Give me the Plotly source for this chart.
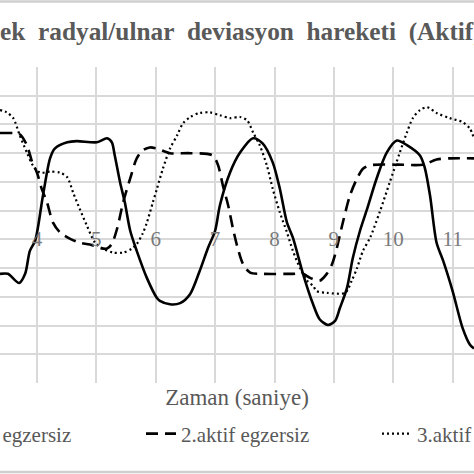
import plotly.graph_objects as go

# Series 1 (solid)
x1 = [3.377, 3.51, 3.70, 3.80, 3.88, 3.97, 4.10, 4.22, 4.30, 4.51, 4.67, 5.01, 5.18, 5.26, 5.31, 5.40, 5.48,
      5.57, 5.68, 5.85, 6.02, 6.07, 6.24, 6.41, 6.58, 6.74, 6.88, 7.00, 7.08, 7.25, 7.42, 7.64, 7.80, 7.97,
      8.09, 8.21, 8.31, 8.48, 8.65, 8.76, 8.90, 9.02, 9.10, 9.22, 9.32, 9.44, 9.56, 9.72, 9.89, 10.06, 10.23,
      10.45, 10.53, 10.62, 10.73, 10.84, 11.00, 11.17, 11.29, 11.36]
y1 = [-11.0, -11.0, -12.6, -11.0, -7.0, -5.2, 2.6, 9.1, 10.8, 11.9, 12.1, 11.9, 12.6, 11.9, 9.6, 4.9, 1.4,
      -3.5, -7.0, -11.7, -15.2, -15.7, -16.3, -16.1, -14.5, -10.5, -6.5, -3.5, 0.9, 6.6, 10.1, 12.6, 11.7, 8.4,
      3.8, -2.1, -4.7, -11.0, -16.3, -18.9, -19.9, -19.2, -17.0, -13.5, -8.2, -3.5, 0.3, 5.6, 10.1, 12.2, 11.4,
      9.6, 7.5, 2.6, -5.6, -8.7, -14.0, -20.5, -23.3, -24.0]

# Series 2 (dashed)
x2 = [3.377, 3.60, 3.71, 3.83, 3.92, 4.00, 4.08, 4.17, 4.27, 4.39, 4.56, 4.72, 4.89, 5.06, 5.18, 5.26, 5.35,
      5.45, 5.57, 5.68, 5.78, 5.90, 6.02, 6.24, 6.58, 6.96, 7.05, 7.13, 7.22, 7.30, 7.38, 7.47, 7.59, 7.80,
      8.31, 8.48, 8.60, 8.76, 8.88, 8.97, 9.05, 9.15, 9.27, 9.39, 9.49, 9.61, 10.06, 10.50, 10.73, 10.95, 11.36]
y2 = [13.5, 13.5, 13.3, 11.4, 8.4, 6.6, 3.8, 1.4, -2.1, -3.8, -4.9, -5.6, -5.9, -6.5, -6.6, -5.8, -3.1,
      1.4, 5.6, 9.1, 10.5, 11.0, 10.8, 10.0, 10.0, 9.6, 7.9, 4.4, 0.9, -3.1, -6.5, -9.3, -10.8, -11.0,
      -11.0, -11.0, -11.7, -12.2, -11.0, -9.3, -6.5, -2.1, 2.6, 5.6, 7.3, 7.9, 8.0, 8.0, 8.9, 9.1, 9.1]

# Series 3 (dotted)
x3 = [3.377, 3.49, 3.60, 3.71, 3.83, 3.93, 4.05, 4.22, 4.39, 4.51, 4.61, 4.72, 4.84, 4.98, 5.11, 5.28, 5.45,
      5.60, 5.68, 5.78, 5.85, 5.95, 6.02, 6.12, 6.24, 6.36, 6.46, 6.58, 6.74, 6.91, 7.08, 7.25, 7.42, 7.54,
      7.64, 7.75, 7.87, 7.97, 8.09, 8.21, 8.31, 8.43, 8.55, 8.65, 8.71, 8.88, 9.19, 9.30, 9.39, 9.49, 9.61,
      9.77, 9.94, 10.11, 10.23, 10.33, 10.45, 10.57, 10.73, 10.95, 11.17, 11.29, 11.36]
y3 = [17.5, 17.1, 16.1, 13.1, 10.1, 7.9, 6.6, 6.8, 6.6, 5.8, 3.1, 0.3, -2.6, -5.6, -6.6, -7.3, -7.3,
      -6.6, -5.8, -4.0, -2.1, 1.4, 3.8, 7.3, 10.8, 13.1, 15.2, 16.3, 17.0, 17.1, 16.6, 16.1, 16.3, 15.7,
      13.6, 11.4, 7.9, 3.8, -0.3, -3.8, -7.0, -10.0, -12.2, -13.1, -14.0, -14.3, -14.3, -12.2, -10.0, -7.0, -4.7,
      -0.3, 4.9, 10.1, 13.6, 16.1, 17.5, 18.0, 17.0, 16.1, 15.4, 14.3, 12.6]

names = ["1.aktif egzersiz", "2.aktif egzersiz", "3.aktif egzersiz"]
tick_vals = [4, 5, 6, 7, 8, 9, 10, 11]
tick_text = ["4", "5", "6", "7", "8", "9", "10", "11"]

title_words = ["Bilek", "radyal/ulnar", "deviasyon", "hareketi", "(Aktif)"]
xtitle = "Zaman (saniye)"

FONT = "Liberation Serif"
GRAY = "#595959"
GRID = "#d9d9d9"

fig = go.Figure()
fig.add_trace(go.Scatter(x=x1, y=y1, name=names[0], mode="lines", legend="legend",
                         line=dict(color="black", width=2.6, shape="spline", smoothing=0.8)))
fig.add_trace(go.Scatter(x=x2, y=y2, name=names[1], mode="lines", legend="legend2",
                         line=dict(color="black", width=2.6, dash="12px,7px", shape="spline", smoothing=0.8)))
fig.add_trace(go.Scatter(x=x3, y=y3, name=names[2], mode="lines", legend="legend3", xaxis="x2",
                         line=dict(color="black", width=2.2, dash="2px,3px", shape="spline", smoothing=0.8)))

xr = [3.377, 11.36]
leg_y = (383 - 434) / 316
leg_common = dict(orientation="h", xanchor="left", y=leg_y, yanchor="middle",
                  font=dict(family=FONT, size=21, color=GRAY), bgcolor="rgba(0,0,0,0)")

fig.update_layout(
    width=474, height=474,
    margin=dict(l=0, r=0, t=67, b=91, autoexpand=False),
    paper_bgcolor="white", plot_bgcolor="white",
    showlegend=True,
    title=dict(text="<b>" + "\u00a0 ".join(title_words) + "</b>", x=0.4756, xanchor="center",
               xref="paper", y=1 - 31 / 474, yanchor="middle",
               font=dict(family=FONT, size=25.3, color=GRAY)),
    xaxis=dict(range=xr, tickvals=tick_vals, showticklabels=False, showgrid=True,
               gridcolor=GRID, gridwidth=1.8, zeroline=False, showline=False, ticks="",
               title=dict(text=xtitle, font=dict(family=FONT, size=23, color=GRAY), standoff=5)),
    xaxis2=dict(range=xr, overlaying="x", anchor="free", position=(383 - 210) / 316, side="bottom",
                tickvals=tick_vals, ticktext=tick_text, showgrid=False, zeroline=False, showline=False,
                ticks="", tickfont=dict(family=FONT, size=21, color="#7a7a7a"), ticklabelstandoff=14),
    yaxis=dict(range=[-30, 25], dtick=5, showticklabels=False, showgrid=True, gridcolor=GRID,
               gridwidth=1.8, zeroline=False, showline=False, ticks=""),
    legend=dict(x=-97 / 474, **leg_common),
    legend2=dict(x=141 / 474, **leg_common),
    legend3=dict(x=377 / 474, **leg_common),
    shapes=[dict(type="rect", xref="paper", yref="paper", x0=-0.05, x1=1.05,
                 y0=(383 - 472) / 316, y1=(383 - 1.5) / 316, line=dict(color="#cfcfcf", width=2.5),
                 fillcolor="rgba(0,0,0,0)", layer="above")],
)

fig.write_html("out.html", config={"displayModeBar": False},
               post_script="document.body.style.margin='0';document.body.style.overflow='hidden';")
